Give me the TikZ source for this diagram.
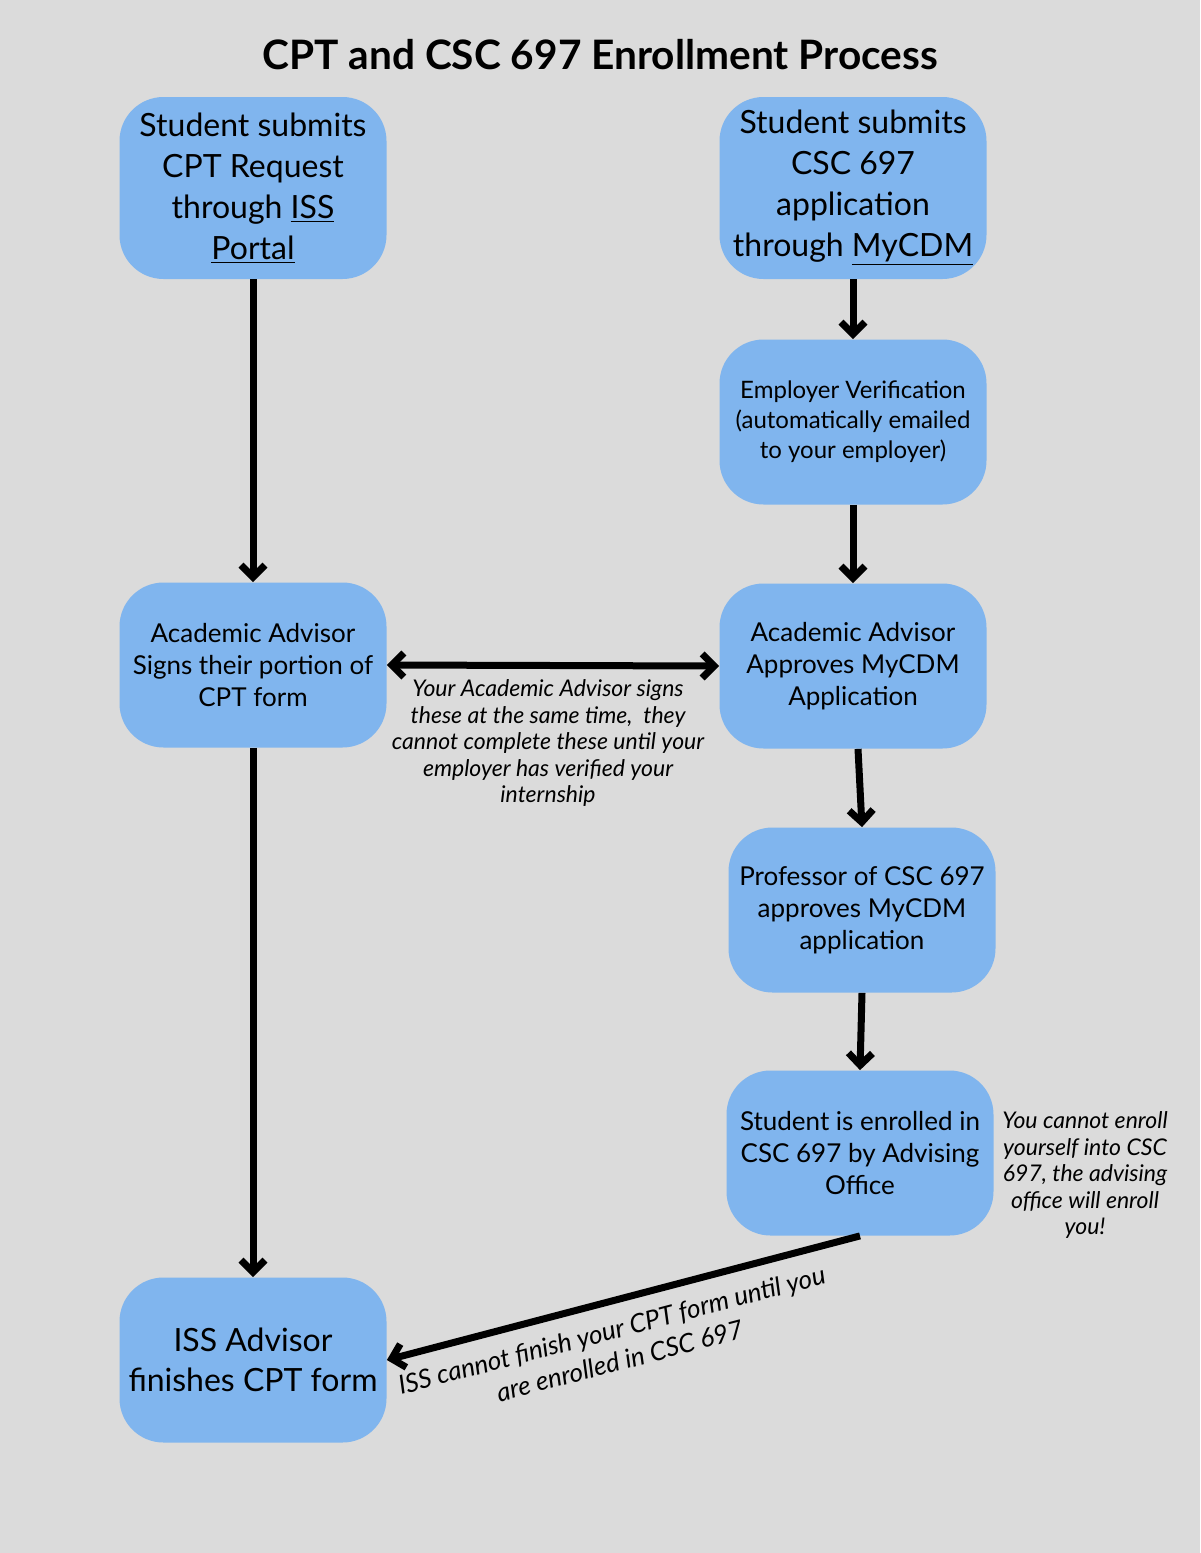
\documentclass[tikz,border=0pt]{standalone}
\usepackage{fontspec}
\setmainfont{Lato}
\usetikzlibrary{arrows.meta,positioning}
\definecolor{pagegray}{RGB}{219,219,219}
\definecolor{stepblue}{RGB}{128,181,238}
\tikzset{
  stepbox/.style={
    rectangle,
    fill=stepblue,
    rounded corners=22pt,
    align=center,
    minimum width=133.5pt,
    minimum height=82.5pt,
    inner sep=2pt,
    font=\fontsize{13}{16}\selectfont
  },
  bigstep/.style={
    stepbox,
    minimum height=91pt,
    font=\fontsize{16}{20.5}\selectfont
  },
  stepnote/.style={
    align=center,
    inner sep=0pt,
    font=\itshape\fontsize{11.5}{13.25}\selectfont
  },
  steparrow/.style={
    -{Straight Barb[length=6pt,width=12pt]},
    line width=3.5pt,
    draw=black
  },
  stepboth/.style={
    steparrow,
    {Straight Barb[length=6pt,width=12pt]}-{Straight Barb[length=6pt,width=12pt]}
  }
}

\begin{document}
\begin{tikzpicture}[x=0.5pt,y=-0.5pt]
  \fill[pagegray] (0,0) rectangle (1200,1553);
  \useasboundingbox (0,0) rectangle (1200,1553);

  \node[font=\bfseries\fontsize{20.3}{24}\selectfont] (title) at (600,55)
    {CPT and CSC 697 Enrollment Process};

  % left column: CPT request
  \node[bigstep] (cptreq) at (253,188)
    {Student submits\\CPT Request\\through \underline{ISS}\\\underline{Portal}};
  \node[stepbox] (advsign) at (253,665)
    {Academic Advisor\\Signs their portion of\\CPT form};
  \node[stepbox,font=\fontsize{16}{20}\selectfont] (issdone) at (253,1360)
    {ISS Advisor\\finishes CPT form};

  % right column: CSC 697 application
  \node[bigstep] (cscapp) at (853,188)
    {Student submits\\CSC 697\\application\\through \underline{MyCDM}};
  \node[stepbox,font=\fontsize{12}{15}\selectfont] (employer) at (853,422)
    {Employer Verification\\(automatically emailed\\to your employer)};
  \node[stepbox] (advapprove) at (853,666)
    {Academic Advisor\\Approves MyCDM\\Application};
  \node[stepbox] (profapprove) at (862,910)
    {Professor of CSC 697\\approves MyCDM\\application};
  \node[stepbox] (enrolled) at (860,1153)
    {Student is enrolled in\\CSC 697 by Advising\\Office};

  \node[stepnote] (samenote) at (548,743)
    {Your Academic Advisor signs\\these at the same time,~ they\\cannot complete these until your\\employer has verified your\\internship};
  \node[stepnote] (enrollnote) at (1085,1175)
    {You cannot enroll\\yourself into CSC\\697, the advising\\office will enroll\\you!};

  \draw[steparrow] (cptreq.south) -- (advsign.north);
  \draw[steparrow] (advsign.south) -- (issdone.north);
  \draw[steparrow] (cscapp.south) -- (employer.north);
  \draw[steparrow] (employer.south) -- (advapprove.north);
  \draw[stepboth] (advsign.east) -- (advapprove.west);
  \draw[steparrow] ([xshift=2.5pt]advapprove.south) -- (profapprove.north);
  \draw[steparrow] (profapprove.south) -- (enrolled.north);
  % the note runs along the sloped arrow, under it
  \draw[steparrow] (enrolled.south) -- (issdone.east)
    node[pos=0.54,sloped,below=4pt,align=center,font=\itshape\fontsize{13}{16}\selectfont]
    {ISS cannot finish your CPT form until you\\are enrolled in CSC 697};
\end{tikzpicture}
\end{document}
